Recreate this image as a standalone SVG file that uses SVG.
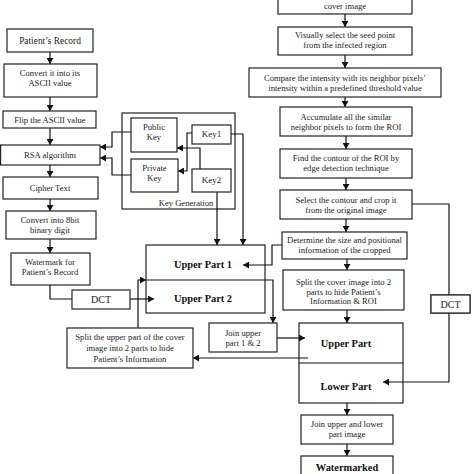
<svg xmlns="http://www.w3.org/2000/svg" width="474" height="474" viewBox="0 0 474 474">
<style>
.b{fill:#fff;stroke:#222;stroke-width:1.2}
.t{font-family:"Liberation Serif","Times New Roman",serif;font-size:8.6px;fill:#222;text-anchor:middle}
.k{font-family:"Liberation Serif","Times New Roman",serif;font-weight:bold;font-size:10.4px;fill:#111;text-anchor:middle}
.c{fill:none;stroke:#111;stroke-width:1.2}
.a{marker-end:url(#ah)}
</style>
<defs>
<marker id="ah" markerUnits="userSpaceOnUse" markerWidth="7" markerHeight="7" refX="6" refY="3.5" orient="auto">
<path d="M0,0 L6,3.5 L0,7 Z" fill="#111"/>
</marker>
</defs>
<rect width="474" height="474" fill="#fff"/>

<g id="keygen"><rect class="b" x="122" y="113" width="113" height="96"/><text class="t" x="186" y="206">Key Generation</text></g>
<g id="upper12"><rect class="b" x="146" y="245" width="119" height="68"/><text class="k" x="203" y="268">Upper Part 1</text><text class="k" x="203" y="302">Upper Part 2</text></g>
<g id="dct2"><rect class="b" x="431" y="295" width="39" height="18"/></g>

<g id="connectors">
<path class="c a" d="M50,52V64"/>
<path class="c a" d="M50,97V111"/>
<path class="c a" d="M50,128V145"/>
<path class="c a" d="M50,165V177"/>
<path class="c a" d="M50,199V211"/>
<path class="c a" d="M50,239V253"/>
<path class="c" d="M50,285V299H72"/>
<path class="c a" d="M130,299H154"/>
<path class="c a" d="M138,328V280H146"/>
<path class="c a" d="M146,280H273V323"/>
<path class="c a" d="M231,134H243V245"/>
<path class="c a" d="M217,192V245"/>
<path class="c a" d="M192,133H187V171H178"/>
<path class="c a" d="M200,169V148H177"/>
<path class="c a" d="M131,132H112V147H100"/>
<path class="c a" d="M131,175H112V158H100"/>
<path class="c a" d="M345,14V27"/>
<path class="c a" d="M345,55V68"/>
<path class="c a" d="M345,97V107"/>
<path class="c a" d="M346,136V149"/>
<path class="c a" d="M346,178V190"/>
<path class="c a" d="M346,219V232"/>
<path class="c a" d="M347,259V270"/>
<path class="c a" d="M347,310V323"/>
<path class="c a" d="M412,204H449V382H383"/>
<path class="c a" d="M282,245H272V265H243"/>
<path class="c a" d="M277,338H305"/>
<path class="c a" d="M308,358H193"/>
<path class="c a" d="M347,403V415"/>
<path class="c a" d="M347,444V456"/>
</g>

<g id="dct2label"><rect class="b" x="431" y="295" width="39" height="18"/><text class="t" style="font-size:10px" x="450.5" y="308">DCT</text></g>

<g id="patient"><rect class="b" x="7" y="29" width="86" height="23"/><text class="t" style="font-size:9.4px" x="50" y="44">Patient’s Record</text></g>
<g id="ascii"><rect class="b" x="4" y="64" width="93" height="33"/><text class="t" x="50" y="76">Convert it into its</text><text class="t" x="50" y="86">ASCII value</text></g>
<g id="flip"><rect class="b" x="3" y="111" width="93" height="17"/><text class="t" x="50" y="122.5">Flip the ASCII value</text></g>
<g id="rsa"><rect class="b" x="0.6" y="145" width="99.4" height="20"/><text class="t" x="50" y="157.5">RSA algorithm</text></g>
<g id="cipher"><rect class="b" x="3" y="177" width="95" height="22"/><text class="t" x="50" y="191">Cipher Text</text></g>
<g id="bits"><rect class="b" x="6" y="211" width="90" height="28"/><text class="t" x="50" y="223">Convert into 8bit</text><text class="t" x="50" y="233">binary digit</text></g>
<g id="wm"><rect class="b" x="11" y="253" width="79" height="32"/><text class="t" x="50" y="265">Watermark for</text><text class="t" x="50" y="275">Patient’s Record</text></g>
<g id="dct1"><rect class="b" x="72" y="290" width="58" height="19"/><text class="t" style="font-size:10px" x="101" y="303">DCT</text></g>

<g id="public"><rect class="b" x="131" y="118" width="46" height="34"/><text class="t" x="154" y="130">Public</text><text class="t" x="154" y="140">Key</text></g>
<g id="private"><rect class="b" x="131" y="159" width="47" height="33"/><text class="t" x="154.5" y="171">Private</text><text class="t" x="154.5" y="181">Key</text></g>
<g id="key1"><rect class="b" x="192" y="125" width="39" height="19"/><text class="t" style="font-size:9px" x="211.5" y="137">Key1</text></g>
<g id="key2"><rect class="b" x="192" y="169" width="39" height="23"/><text class="t" style="font-size:9px" x="211.5" y="183">Key2</text></g>

<g id="splitupper"><rect class="b" x="67" y="328" width="126" height="40"/><text class="t" x="130" y="340">Split the upper part of the cover</text><text class="t" x="130" y="351">image into 2 parts to hide</text><text class="t" x="130" y="362">Patient’s Information</text></g>
<g id="join12"><rect class="b" x="209" y="323" width="68" height="29"/><text class="t" x="243" y="336">Join upper</text><text class="t" x="243" y="346">part 1 &amp; 2</text></g>

<g id="cover"><rect class="b" x="278" y="-10" width="134" height="24"/><text class="t" x="345" y="9">cover image</text></g>
<g id="seed"><rect class="b" x="278" y="27" width="134" height="28"/><text class="t" x="345" y="38">Visually select the seed point</text><text class="t" x="345" y="48">from the infected region</text></g>
<g id="compare"><rect class="b" x="249" y="68" width="192" height="29"/><text class="t" x="345" y="81">Compare the intensity with its neighbor pixels’</text><text class="t" x="345" y="91">intensity within a predefined threshold value</text></g>
<g id="accum"><rect class="b" x="280" y="107" width="132" height="29"/><text class="t" x="346" y="120">Accumulate all the similar</text><text class="t" x="346" y="130">neighbor pixels to form the ROI</text></g>
<g id="contour"><rect class="b" x="280" y="149" width="132" height="29"/><text class="t" x="346" y="161">Find the contour of the ROI by</text><text class="t" x="346" y="171">edge detection technique</text></g>
<g id="crop"><rect class="b" x="280" y="190" width="132" height="29"/><text class="t" x="346" y="203">Select the contour and crop it</text><text class="t" x="346" y="213">from the original image</text></g>
<g id="determine"><rect class="b" x="282" y="232" width="125" height="27"/><text class="t" x="344.5" y="243">Determine the size and positional</text><text class="t" x="344.5" y="253">information of the cropped</text></g>
<g id="splitcover"><rect class="b" x="283" y="270" width="121" height="40"/><text class="t" x="343.5" y="285">Split the cover image into 2</text><text class="t" x="343.5" y="295">parts to hide Patient’s</text><text class="t" x="343.5" y="304">Information &amp; ROI</text></g>
<g id="upperlower"><rect class="b" x="299" y="323" width="104" height="80" style="fill:none"/><line class="c" x1="299" y1="363" x2="403" y2="363"/><text class="k" x="346" y="347">Upper Part</text><text class="k" x="346" y="390">Lower Part</text></g>
<g id="joinul"><rect class="b" x="301" y="415" width="92" height="29"/><text class="t" x="347" y="427">Join upper and lower</text><text class="t" x="347" y="437">part image</text></g>
<g id="watermarked"><rect class="b" x="301" y="456" width="92" height="30"/><text class="k" x="347" y="471">Watermarked</text></g>
</svg>
